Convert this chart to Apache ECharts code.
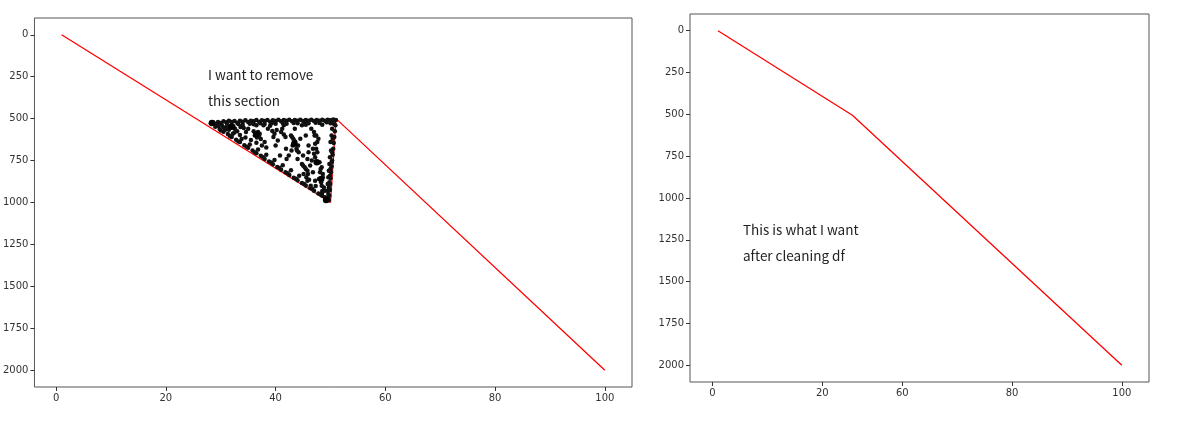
<!DOCTYPE html>
<html>
<head>
<meta charset="utf-8">
<title>remove section</title>
<script src="https://cdn.jsdelivr.net/npm/echarts@6/dist/echarts.min.js"></script>
<style>
  html, body { margin: 0; padding: 0; background: #fff; }
  #main { width: 1200px; height: 424px; }
</style>
</head>
<body>
<div id="main"></div>
<script>
// raw df (left) and cleaned df (right)
var rawX = [1, 50, 51, 100];
var rawY = [0, 1000, 500, 2000];
var cleanX = [1, 25.5, 51, 100];
var cleanY = [0, 505, 505, 2000];
var xTicks = [0, 20, 40, 60, 80, 100];
var xTicksClean = [0, 20, 60, 80, 100];
var yTicks = [0, 250, 500, 750, 1000, 1250, 1500, 1750, 2000];

// scattered points of the section to remove
var sectionDots = [
  [28.2,528],[28.6,522],[29,530],[29.5,520],[30,526],[30.5,515],[31,522],[31.5,512],[32,520],[32.5,514],
  [33,524],[33.5,512],[34,518],[34.5,510],[35,520],[35.5,512],[36,516],[36.5,508],[37,518],[37.5,510],
  [38,514],[38.5,508],[39,518],[39.5,510],[40,514],[40.5,506],[41,516],[41.5,508],[42,512],[42.5,506],
  [43,516],[43.5,508],[44,512],[44.5,506],[45,514],[45.5,508],[46,512],[46.5,506],[47,514],[47.5,508],
  [48,512],[48.5,506],[49,512],[49.5,506],[50,510],[50.5,505],[51,508],
  [30.2,538],[31.2,534],[33.2,532],[35.3,530],[37.2,528],[39.3,528],[41.3,526],[43.3,526],[45.3,524],
  [47.3,524],[49.3,522],[50.6,520],
  [32,538],[34,536],[36,534],[38,532],[40,530],[42,530],[44,528],[46,528],[48,526],[50,528],
  [36.5,540],[39,542],[41.5,540],[45.5,536],[48.5,536],
  [29,548],[29.8,562],[30.5,578],[31.3,592],[32,610],[32.8,626],[33.5,640],[34.3,658],[35,674],[35.8,690],
  [36.5,706],[37.3,722],[38,740],[38.8,756],[39.5,772],[40.3,788],[41,804],[41.8,820],[42.5,836],[43.3,852],
  [44,868],[44.8,884],[45.5,898],[46.3,914],[47,930],[47.8,946],[48.5,960],[49.2,976],[49.6,986],
  [29.5,542],[30.8,566],[32.2,590],[33.8,622],[35.3,654],[36.8,684],[38.3,716],[39.8,746],[41.3,778],
  [42.8,808],[44.3,840],[45.8,870],[47.3,902],[48.5,932],
  [30,570],[31.7,605],[33.2,636],[34.7,668],[36.2,700],[37.7,730],[39.2,762],[40.7,794],[42.2,826],
  [43.7,858],[45.2,890],[46.7,920],[48.2,952],[49,968],
  [50.9,540],[50.8,575],[50.7,610],[50.6,645],[50.5,680],[50.4,715],[50.3,750],[50.2,785],[50.1,820],
  [50,855],[49.95,890],[49.9,925],[49.8,960],[49.7,985],
  [50.3,560],[50.2,600],[50,640],[50.1,690],[49.9,730],[49.8,770],[49.7,810],[49.6,850],[49.5,890],[49.4,930],
  [50.6,530],[50.4,620],[50.3,700],[50.2,760],[50,800],[49.9,840],[49.8,880],[49.7,910],[49.6,950],[49.5,970],
  [29.5,540],[30.5,552],[31.5,566],[32.5,582],[33.5,598],[34.5,612],[35.5,628],[36.5,644],[37.5,660],[38.3,672],
  [31.2,545],[31.8,550],[32.3,545],[33.6,550],[34.2,556],[33.9,542],
  [36,575],[36.4,588],[36.8,600],[37.1,590],[36.6,612],[37.3,622],
  [38.6,560],[39.4,574],[40.2,568],[39.8,590],
  [41,580],[41.5,595],[41.8,610],[41.2,560],
  [42.8,600],[43.2,620],[43.6,640],[43.1,660],[43.8,680],[44.2,700],[42.9,690],[43.5,560],
  [44.8,770],[45.3,790],[45.8,810],[45.1,830],[45.6,850],[46.1,865],
  [47,580],[47.4,600],[47.8,620],[47.2,650],[46.8,680],[47.6,700],[47.2,730],[46.6,750],
  [48,760],[48.4,790],[48.1,820],[48.6,850],[48.3,880],[48.8,910],[48.5,940],
  [44.5,620],[45.5,600],[46,660],[45,720],[42,740],[40.8,720],[44,740],[46.4,900],[47.2,870],
  [38,640],[40,660],[35,560],[37.8,540],[44.8,540],[46.5,560],
  [36.2,600],[37,604],[36.8,580],[43,610],[43.4,630],[43.9,690],[44.1,660],[45,780],[45.5,800],[45.9,830],
  [47.1,600],[47.6,640],[47.4,680],[47,710],[48.2,800],[48.6,830],[48.4,900],[48.9,930],[32.6,560],[33,575],
  [31,555],[34.6,580],[39.6,610],[40.4,630],[41.9,680],[42.4,720],[46,700],[46.3,780],[46.8,820],[47.9,860],
  [45.8,740]
];
var sectionBlobs = [[28.4,526],[49.2,985],[36.5,592],[43.4,650],[47.5,760],[48.3,860],[32,548]];

function pairs(xs, ys) {
  return xs.map(function (x, i) { return [x, ys[i]]; });
}

var labelFont = { color: '#333', fontSize: 10, fontFamily: 'DejaVu Sans' };
var noteFont = '13.5px "Noto Sans CJK KR"';

function plain(v) {
  return String(v);
}

function xAxisFor(gridIndex, min, ticks, extra) {
  var axis = {
    type: 'value',
    gridIndex: gridIndex,
    min: min,
    max: 104.95,
    splitLine: { show: false },
    axisLine: { show: false, onZero: false },
    axisTick: { show: true, length: 4, lineStyle: { color: '#333' }, customValues: ticks },
    axisLabel: Object.assign({ margin: 6, customValues: ticks, formatter: plain }, labelFont)
  };
  return Object.assign(axis, extra || {});
}

function yAxisFor(gridIndex) {
  return {
    type: 'value',
    gridIndex: gridIndex,
    inverse: true,
    min: -100,
    max: 2100,
    splitLine: { show: false },
    axisLine: { show: false, onZero: false },
    axisTick: { show: true, length: 4, lineStyle: { color: '#333' }, customValues: yTicks },
    axisLabel: Object.assign({ margin: 6, customValues: yTicks, formatter: plain }, labelFont)
  };
}

var chart = echarts.init(document.getElementById('main'));
chart.setOption({
  animation: false,
  backgroundColor: '#fff',
  grid: [
    { left: 34, top: 18, width: 598, height: 369, show: true, borderColor: '#555', borderWidth: 1 },
    { left: 690, top: 14, width: 459, height: 368, show: true, borderColor: '#555', borderWidth: 1 }
  ],
  xAxis: [
    xAxisFor(0, -3.95, xTicks),
    xAxisFor(1, -4.1, xTicksClean, {
      breaks: [{ start: 25.6, end: 51, gap: 0 }],
      breakArea: { show: false }
    })
  ],
  yAxis: [yAxisFor(0), yAxisFor(1)],
  series: [
    {
      type: 'line',
      xAxisIndex: 0,
      yAxisIndex: 0,
      data: pairs(rawX, rawY),
      showSymbol: false,
      lineStyle: { color: '#ff0000', width: 1.3 },
      z: 2
    },
    {
      type: 'scatter',
      xAxisIndex: 0,
      yAxisIndex: 0,
      data: sectionDots,
      symbolSize: 4.5,
      itemStyle: { color: '#111', opacity: 1 },
      z: 3
    },
    {
      type: 'scatter',
      xAxisIndex: 0,
      yAxisIndex: 0,
      data: sectionBlobs,
      symbolSize: 6.5,
      itemStyle: { color: '#000', opacity: 1 },
      z: 3
    },
    {
      type: 'line',
      xAxisIndex: 1,
      yAxisIndex: 1,
      data: pairs(cleanX, cleanY),
      showSymbol: false,
      lineStyle: { color: '#ff0000', width: 1.3 }
    }
  ],
  graphic: [
    { type: 'text', left: 208, top: 68, style: { text: 'I want to remove', font: noteFont, fill: '#222' } },
    { type: 'text', left: 208, top: 94, style: { text: 'this section', font: noteFont, fill: '#222' } },
    { type: 'text', left: 743, top: 223, style: { text: 'This is what I want', font: noteFont, fill: '#222' } },
    { type: 'text', left: 743, top: 249, style: { text: 'after cleaning df', font: noteFont, fill: '#222' } }
  ]
});
</script>
</body>
</html>
